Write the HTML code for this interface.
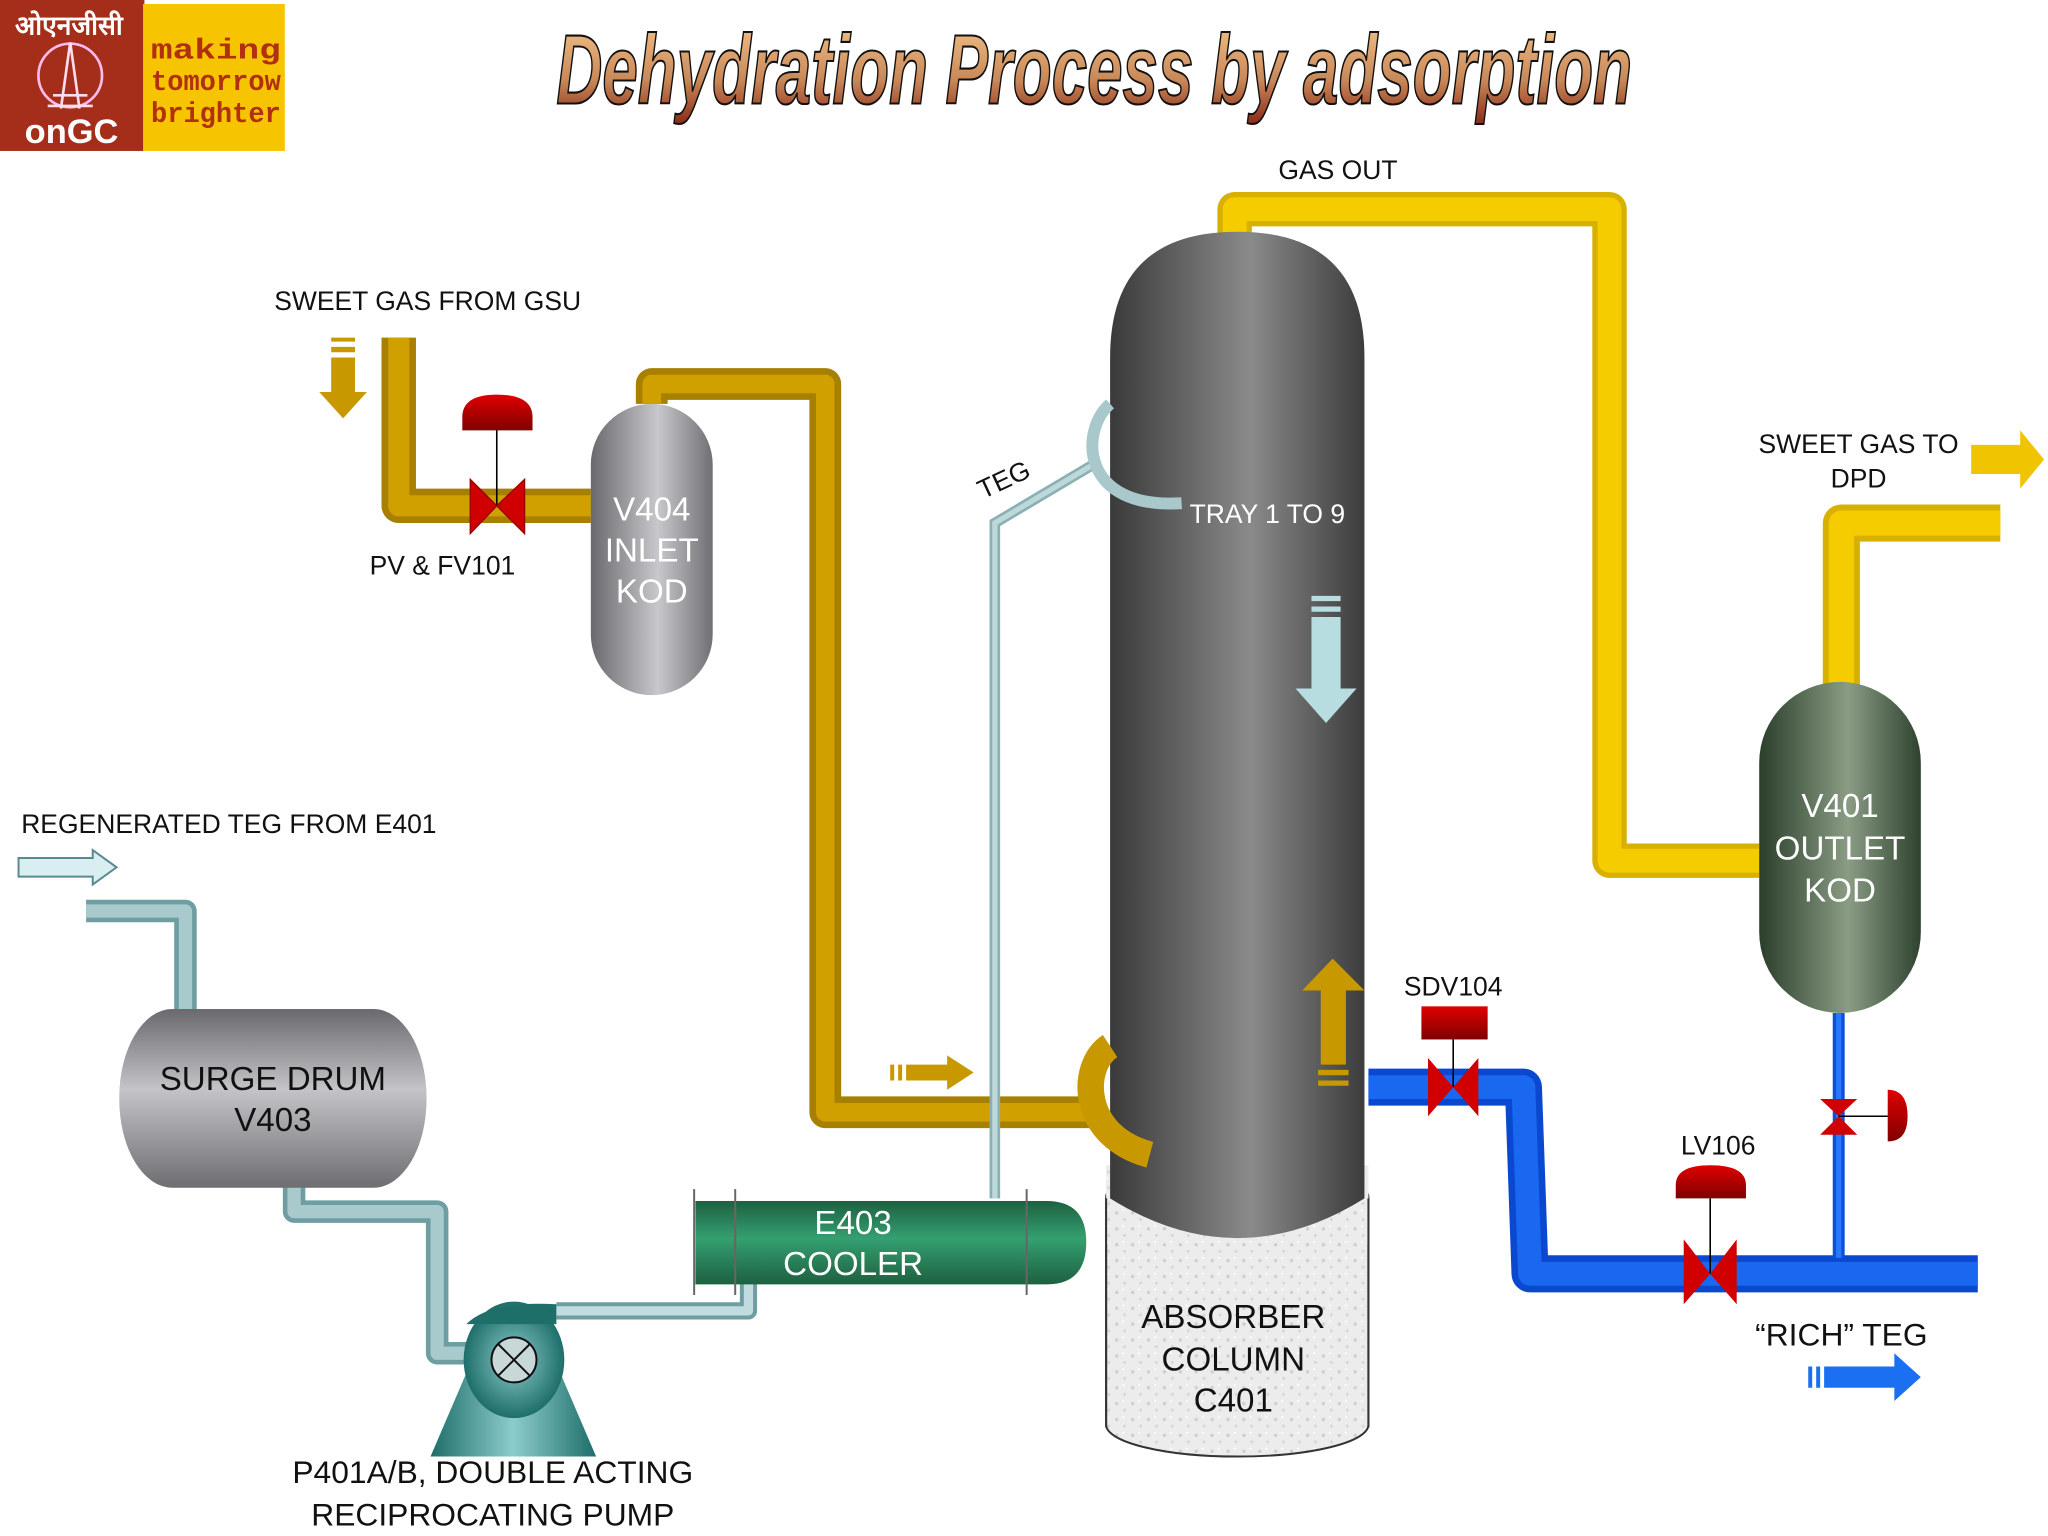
<!DOCTYPE html>
<html><head><meta charset="utf-8"><style>html,body{margin:0;padding:0;background:#fff;overflow:hidden}svg{display:block}</style></head>
<body>
<svg width="2048" height="1536" viewBox="0 0 1546 1160" preserveAspectRatio="none" xmlns="http://www.w3.org/2000/svg" font-family="Liberation Sans, sans-serif">
<defs>
<linearGradient id="title" x1="0" y1="0" x2="0" y2="1"><stop offset="0" stop-color="#f8c890"/><stop offset="0.6" stop-color="#c88858"/><stop offset="1" stop-color="#8a2a18"/></linearGradient>
<linearGradient id="col" x1="0" y1="0" x2="1" y2="0"><stop offset="0" stop-color="#3a3a3a"/><stop offset="0.55" stop-color="#8a8a8a"/><stop offset="1" stop-color="#3c3c3c"/></linearGradient>
<linearGradient id="v404" x1="0" y1="0" x2="1" y2="0"><stop offset="0" stop-color="#6a6a6e"/><stop offset="0.55" stop-color="#c8c8cc"/><stop offset="1" stop-color="#707074"/></linearGradient>
<linearGradient id="v401" x1="0" y1="0" x2="1" y2="0"><stop offset="0" stop-color="#2a3e2a"/><stop offset="0.55" stop-color="#8a9c84"/><stop offset="1" stop-color="#2e422e"/></linearGradient>
<linearGradient id="drum" x1="0" y1="0" x2="0" y2="1"><stop offset="0" stop-color="#6a6a6e"/><stop offset="0.45" stop-color="#c4c4c8"/><stop offset="1" stop-color="#6e6e72"/></linearGradient>
<linearGradient id="cool" x1="0" y1="0" x2="0" y2="1"><stop offset="0" stop-color="#1e6040"/><stop offset="0.45" stop-color="#34a070"/><stop offset="1" stop-color="#1e6040"/></linearGradient>
<radialGradient id="pump" cx="0.5" cy="0.5" r="0.5"><stop offset="0" stop-color="#8ccccc"/><stop offset="1" stop-color="#1e6e6a"/></radialGradient>
<linearGradient id="base" x1="0" y1="0" x2="1" y2="0"><stop offset="0" stop-color="#1e6e6a"/><stop offset="0.5" stop-color="#8ccccc"/><stop offset="1" stop-color="#1e6e6a"/></linearGradient>
<linearGradient id="red" x1="0" y1="0" x2="0" y2="1"><stop offset="0" stop-color="#e00000"/><stop offset="1" stop-color="#800000"/></linearGradient>
<pattern id="speck" width="12" height="12" patternUnits="userSpaceOnUse"><rect width="12" height="12" fill="#ececec"/><circle cx="3" cy="4" r="1.3" fill="#cfcfcf"/><circle cx="9" cy="9" r="1.1" fill="#d6d6d6"/><circle cx="8" cy="2" r="0.8" fill="#fff"/></pattern>
</defs>

<!-- logo -->
<rect x="0" y="0" width="109" height="114" fill="#a52e1a"/>
<rect x="108" y="3" width="107" height="111" fill="#f6c400"/>
<text x="52" y="26" font-size="20" font-weight="bold" fill="#fff" text-anchor="middle" font-family="Noto Sans CJK SC, DejaVu Sans, sans-serif">ओएनजीसी</text>
<circle cx="53" cy="57" r="24" fill="none" stroke="#fbe" stroke-width="2"/>
<path d="M53 32 L46 82 M53 32 L60 82 M40 72 L66 72 M36 80 L70 80" stroke="#fde" stroke-width="2"/>
<text x="54" y="108" font-size="26" font-weight="bold" fill="#fff" text-anchor="middle">onGC</text>
<g font-family="Liberation Mono, monospace" font-weight="bold" fill="#b03010" font-size="22">
<text x="114" y="44" textLength="98" lengthAdjust="spacingAndGlyphs">making</text>
<text x="114" y="68" textLength="98" lengthAdjust="spacingAndGlyphs">tomorrow</text>
<text x="114" y="92" textLength="98" lengthAdjust="spacingAndGlyphs">brighter</text>
</g>

<!-- title -->
<text x="420" y="78" font-size="74" font-weight="bold" font-style="italic" fill="url(#title)" stroke="#111" stroke-width="1.6" textLength="812" lengthAdjust="spacingAndGlyphs">Dehydration Process by adsorption</text>

<!-- yellow gas out pipe -->
<g fill="none" stroke-linejoin="round">
<path d="M932 190 L932 158 L1215 158 L1215 650 L1328 650" stroke="#d8b000" stroke-width="26"/>
<path d="M932 190 L932 158 L1215 158 L1215 650 L1328 650" stroke="#f4cc00" stroke-width="18"/>
<path d="M1390 520 L1390 395 L1510 395" stroke="#d8b000" stroke-width="28"/>
<path d="M1390 520 L1390 395 L1510 395" stroke="#f4cc00" stroke-width="19"/>
</g>
<path d="M1488 336 L1525 336 L1525 325 L1543 347 L1525 369 L1525 358 L1488 358Z" fill="#f0c400"/>

<!-- gold inlet pipes -->
<g fill="none" stroke-linejoin="round">
<path d="M301 255 L301 382 L446 382" stroke="#a88000" stroke-width="26"/>
<path d="M301 255 L301 382 L446 382" stroke="#d0a000" stroke-width="16"/>
<path d="M492 305 L492 290 L623 290 L623 840 L830 840" stroke="#a88000" stroke-width="24"/>
<path d="M492 305 L492 290 L623 290 L623 840 L830 840" stroke="#d0a000" stroke-width="14"/>
</g>
<path d="M250 255 L268 255 L268 258 L250 258Z M250 262 L268 262 L268 266 L250 266Z M250 270 L268 270 L268 296 L277 296 L259 316 L241 296 L250 296Z" fill="#c89800"/>
<path d="M672 804 L675 804 L675 816 L672 816Z M678 804 L681 804 L681 816 L678 816Z M684 804 L715 804 L715 797 L735 810 L715 823 L715 816 L684 816Z" fill="#c89800"/>

<!-- V404 -->
<rect x="446" y="305" width="92" height="220" rx="46" ry="46" fill="url(#v404)"/>
<g fill="#fff" font-size="25" text-anchor="middle"><text x="492" y="393">V404</text><text x="492" y="424">INLET</text><text x="492" y="455">KOD</text></g>

<!-- valve PV -->
<line x1="375" y1="320" x2="375" y2="382" stroke="#000" stroke-width="1.2"/>
<path d="M349 325 L349 315 Q349 298 375 298 Q402 298 402 315 L402 325Z" fill="url(#red)"/>
<path d="M355 362 L375 382 L355 403Z M396 362 L375 382 L396 403Z" fill="#d00000" stroke="#900" stroke-width="1"/>

<!-- column -->
<rect x="835" y="880" width="198" height="220" rx="99" ry="24" fill="url(#speck)" stroke="#333" stroke-width="1.5"/>
<rect x="835" y="880" width="198" height="60" fill="url(#speck)"/>
<line x1="835" y1="905" x2="835" y2="1078" stroke="#333" stroke-width="1.5"/>
<line x1="1033" y1="905" x2="1033" y2="1078" stroke="#333" stroke-width="1.5"/>
<path d="M838 270 Q838 175 934 175 Q1030 175 1030 270 L1030 905 Q934 965 838 905Z" fill="url(#col)"/>
<g font-size="25" text-anchor="middle" fill="#111"><text x="931" y="1003">ABSORBER</text><text x="931" y="1035">COLUMN</text><text x="931" y="1066">C401</text></g>
<text x="898" y="395" font-size="20" fill="#fff">TRAY 1 TO 9</text>
<path d="M990 450 L1012 450 L1012 454 L990 454Z M990 458 L1012 458 L1012 462 L990 462Z M990 466 L1012 466 L1012 520 L1024 520 L1001 546 L978 520 L990 520Z" fill="#b8dde0"/>
<path d="M995 820 L1018 820 L1018 816 L995 816Z M995 812 L1018 812 L1018 808 L995 808Z M997 804 L997 748 L983 748 L1006 724 L1030 748 L1016 748 L1016 804Z" fill="#c89800"/>

<!-- hooks over column -->
<path d="M838 790 C815 805 815 858 868 872" fill="none" stroke="#c89800" stroke-width="20"/>

<!-- TEG line -->
<g fill="none">
<path d="M751 905 L751 395 L830 348" stroke="#8ab0b4" stroke-width="8"/>
<path d="M751 905 L751 395 L830 348" stroke="#bcd8da" stroke-width="4"/>
<path d="M838 305 C815 325 815 385 892 380" stroke="#a8c8cc" stroke-width="9"/>
</g>
<text x="742" y="377" font-size="20" fill="#111" transform="rotate(-25 742 377)">TEG</text>

<!-- V401 -->
<rect x="1328" y="515" width="122" height="250" rx="61" ry="61" fill="url(#v401)"/>
<g fill="#fff" font-size="25" text-anchor="middle"><text x="1389" y="617">V401</text><text x="1389" y="649">OUTLET</text><text x="1389" y="681">KOD</text></g>

<!-- blue pipes -->
<g fill="none" stroke-linejoin="round">
<path d="M1033 821 L1150 821 L1155 962 L1493 962" stroke="#0a48d0" stroke-width="28"/>
<path d="M1033 821 L1150 821 L1155 962 L1493 962" stroke="#1a68f0" stroke-width="18"/>
<path d="M1388 765 L1388 950" stroke="#0a50d8" stroke-width="9"/>
<path d="M1388 765 L1388 950" stroke="#2a78ff" stroke-width="4"/>
</g>
<!-- SDV104 -->
<line x1="1097" y1="785" x2="1097" y2="821" stroke="#000" stroke-width="1.2"/>
<rect x="1073" y="760" width="50" height="25" fill="url(#red)"/>
<path d="M1078 799 L1097 821 L1078 843Z M1116 799 L1097 821 L1116 843Z" fill="#d00000"/>
<text x="1097" y="752" font-size="20" fill="#111" text-anchor="middle">SDV104</text>
<!-- LV106 -->
<line x1="1291" y1="905" x2="1291" y2="962" stroke="#000" stroke-width="1.2"/>
<path d="M1265 905 L1265 895 Q1265 880 1291 880 Q1318 880 1318 895 L1318 905Z" fill="url(#red)"/>
<path d="M1271 936 L1291 962 L1271 985Z M1311 936 L1291 962 L1311 985Z" fill="#d00000"/>
<text x="1297" y="872" font-size="20" fill="#111" text-anchor="middle">LV106</text>
<!-- small valve -->
<path d="M1374 830 L1402 830 L1388 843Z M1374 857 L1402 857 L1388 843Z" fill="#d00000"/>
<line x1="1388" y1="843" x2="1426" y2="843" stroke="#000" stroke-width="1.2"/>
<path d="M1425 823 Q1440 823 1440 843 Q1440 862 1425 862Z" fill="url(#red)"/>
<text x="1390" y="1016" font-size="24" fill="#111" text-anchor="middle">“RICH” TEG</text>
<path d="M1365 1032 L1368 1032 L1368 1048 L1365 1048Z M1371 1032 L1374 1032 L1374 1048 L1371 1048Z M1377 1032 L1430 1032 L1430 1022 L1450 1040 L1430 1058 L1430 1048 L1377 1048Z" fill="#1a70f0"/>

<!-- regenerated TEG -->
<path d="M14 648 L70 648 L70 642 L88 655 L70 668 L70 662 L14 662Z" fill="#d8eef0" stroke="#5a8a90" stroke-width="1.5"/>
<g fill="none" stroke-linejoin="round">
<path d="M65 688 L140 688 L140 765" stroke="#6e9ea2" stroke-width="17"/>
<path d="M65 688 L140 688 L140 765" stroke="#a8cacc" stroke-width="10"/>
<path d="M222 895 L222 915 L330 915 L330 1022 L358 1022" stroke="#6e9ea2" stroke-width="17"/>
<path d="M222 895 L222 915 L330 915 L330 1022 L358 1022" stroke="#a8cacc" stroke-width="10"/>
<path d="M420 990 L565 990 L565 968" stroke="#6e9ea2" stroke-width="13"/>
<path d="M420 990 L565 990 L565 968" stroke="#c0dcde" stroke-width="7"/>
</g>
<!-- surge drum -->
<rect x="90" y="762" width="232" height="135" rx="40" ry="67" fill="url(#drum)"/>
<g font-size="25" text-anchor="middle" fill="#111"><text x="206" y="823">SURGE DRUM</text><text x="206" y="854">V403</text></g>
<text x="16" y="629" font-size="20" fill="#111">REGENERATED TEG FROM E401</text>

<!-- pump -->
<path d="M325 1100 L355 1030 L420 1030 L450 1100Z" fill="url(#base)"/>
<ellipse cx="388" cy="1027" rx="38" ry="44" fill="url(#pump)"/>
<path d="M352 1000 Q370 982 420 985 L420 1000Z" fill="#1e6e6a"/>
<circle cx="388" cy="1027" r="17" fill="#c8d8d8" stroke="#111" stroke-width="1.5"/>
<path d="M376 1015 L400 1039 M400 1015 L376 1039" stroke="#111" stroke-width="1.5"/>
<g font-size="24" text-anchor="middle" fill="#111"><text x="372" y="1120">P401A/B, DOUBLE ACTING</text><text x="372" y="1152">RECIPROCATING PUMP</text></g>

<!-- cooler -->
<path d="M525 907 L790 907 Q820 907 820 938 Q820 970 790 970 L525 970Z" fill="url(#cool)"/>
<line x1="524" y1="898" x2="524" y2="978" stroke="#666" stroke-width="1.5"/>
<line x1="555" y1="898" x2="555" y2="978" stroke="#666" stroke-width="1.5"/>
<line x1="775" y1="898" x2="775" y2="978" stroke="#666" stroke-width="1.5"/>
<g font-size="25" text-anchor="middle" fill="#fff"><text x="644" y="932">E403</text><text x="644" y="963">COOLER</text></g>

<!-- labels -->
<g font-size="20" fill="#111">
<text x="207" y="234">SWEET GAS FROM GSU</text>
<text x="279" y="434">PV &amp; FV101</text>
<text x="1010" y="135" text-anchor="middle">GAS OUT</text>
<text x="1403" y="342" text-anchor="middle">SWEET GAS TO</text>
<text x="1403" y="368" text-anchor="middle">DPD</text>
</g>
</svg>
</body></html>
